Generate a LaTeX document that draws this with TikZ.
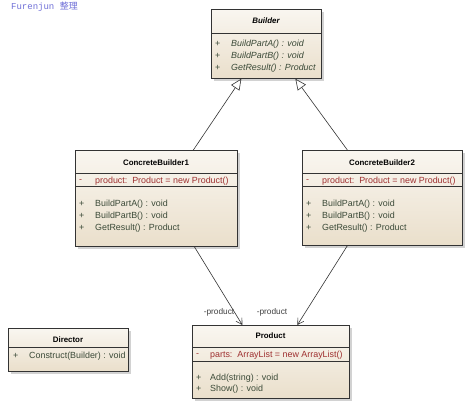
\documentclass[tikz,border=0pt]{standalone}
\usepackage{fontspec}
\setmainfont{Liberation Sans}
\newfontfamily\cjkfont{Noto Sans CJK SC}
\newfontfamily\markfont{Liberation Mono}
\usetikzlibrary{arrows.meta,shadows}
\definecolor{boxtop}{HTML}{F9F6F0}
\definecolor{boxbot}{HTML}{EADFCB}
\definecolor{attrred}{HTML}{9E2F2F}
\definecolor{opgreen}{HTML}{3B4A38}
\definecolor{markblue}{HTML}{7070D8}
\begin{document}
\begin{tikzpicture}[x=1pt, y=-1pt,
  umlbox/.style={draw=black!80, line width=0.7pt, top color=boxtop, bottom color=boxbot,
    anchor=north west, inner sep=0pt,
    drop shadow={shadow xshift=2.5pt, shadow yshift=-2.5pt, opacity=0.35}},
  title/.style={inner sep=0pt, font=\fontsize{7.9}{9}\selectfont\bfseries},
  attr/.style={anchor=west, inner sep=0pt, text=attrred, font=\fontsize{8.9}{10}\selectfont},
  oper/.style={anchor=west, inner sep=0pt, text=opgreen, font=\fontsize{8.9}{10}\selectfont},
  role/.style={inner sep=0pt, text=black!75, font=\fontsize{8.3}{9}\selectfont},
  sep/.style={draw=black!80, line width=0.6pt},
  inherit/.style={draw=black!80, line width=0.6pt, -{Triangle[open, length=11pt, width=10pt]}},
  assoc/.style={draw=black!80, line width=0.6pt, -{Straight Barb[length=6pt, width=7pt]}}
]
  \fill[white] (0,0) rectangle (474,409);
  \useasboundingbox (0,0) rectangle (474,409);

  \node[anchor=west, inner sep=0pt, text=markblue, font=\fontsize{9}{10}\selectfont] (mark) at (11,7)
    {\markfont Furenjun \cjkfont 整理};

  % Builder
  \node[umlbox, minimum width=110pt, minimum height=69pt] (builder) at (211,9) {};
  \draw[sep] (211,33) -- (321,33);
  \node[title, font=\fontsize{7.9}{9}\selectfont\bfseries\itshape] (builderT) at (266,21) {Builder};
  \node[oper] (b1m) at (215,44) {+};
  \node[oper, font=\fontsize{8.9}{10}\selectfont\itshape] (b1) at (231,44) {BuildPartA() : void};
  \node[oper] (b2m) at (215,56) {+};
  \node[oper, font=\fontsize{8.9}{10}\selectfont\itshape] (b2) at (231,56) {BuildPartB() : void};
  \node[oper] (b3m) at (215,68) {+};
  \node[oper, font=\fontsize{8.9}{10}\selectfont\itshape] (b3) at (231,68) {GetResult() : Product};

  % ConcreteBuilder1
  \node[umlbox, minimum width=162pt, minimum height=96pt] (cb1) at (75,150) {};
  \draw[sep] (75,173) -- (237,173);
  \draw[sep] (75,186) -- (237,186);
  \node[title] (cb1T) at (156,163) {ConcreteBuilder1};
  \node[attr] (c1am) at (79,181) {-};
  \node[attr] (c1a) at (95,181) {product:\ \ Product = new Product()};
  \node[oper] (c11m) at (79,204) {+};
  \node[oper] (c11) at (95,204) {BuildPartA() : void};
  \node[oper] (c12m) at (79,216) {+};
  \node[oper] (c12) at (95,216) {BuildPartB() : void};
  \node[oper] (c13m) at (79,228) {+};
  \node[oper] (c13) at (95,228) {GetResult() : Product};

  % ConcreteBuilder2
  \node[umlbox, minimum width=160pt, minimum height=95pt] (cb2) at (302,150) {};
  \draw[sep] (302,173) -- (462,173);
  \draw[sep] (302,186) -- (462,186);
  \node[title] (cb2T) at (382,163) {ConcreteBuilder2};
  \node[attr] (c2am) at (306,181) {-};
  \node[attr] (c2a) at (322,181) {product:\ \ Product = new Product()};
  \node[oper] (c21m) at (306,204) {+};
  \node[oper] (c21) at (322,204) {BuildPartA() : void};
  \node[oper] (c22m) at (306,216) {+};
  \node[oper] (c22) at (322,216) {BuildPartB() : void};
  \node[oper] (c23m) at (306,228) {+};
  \node[oper] (c23) at (322,228) {GetResult() : Product};

  % Product
  \node[umlbox, minimum width=157pt, minimum height=73pt] (product) at (192,325) {};
  \draw[sep] (192,347) -- (349,347);
  \draw[sep] (192,361) -- (349,361);
  \node[title] (productT) at (270.5,336) {Product};
  \node[attr] (pam) at (196,355) {-};
  \node[attr] (pa) at (210,355) {parts:\ \ ArrayList = new ArrayList()};
  \node[oper] (p1m) at (196,378) {+};
  \node[oper] (p1) at (210,378) {Add(string) : void};
  \node[oper] (p2m) at (196,389) {+};
  \node[oper] (p2) at (210,389) {Show() : void};

  % Director
  \node[umlbox, minimum width=120pt, minimum height=43pt] (director) at (8,328) {};
  \draw[sep] (8,347) -- (128,347);
  \node[title] (directorT) at (68,340) {Director};
  \node[oper] (d1m) at (13,356) {+};
  \node[oper] (d1) at (29,356) {Construct(Builder) : void};

  % generalization
  \draw[inherit] ([xshift=37pt]cb1.north) -- ([xshift=-25pt]builder.south);
  \draw[inherit] ([xshift=-35pt]cb2.north) -- ([xshift=29pt]builder.south);

  % associations
  \draw[assoc] ([xshift=38pt]cb1.south) -- ([xshift=-28.5pt]product.north);
  \draw[assoc] ([xshift=-35pt]cb2.south) -- ([xshift=26.5pt]product.north);
  \node[role] (role1) at (219,312) {-product};
  \node[role] (role2) at (272,312) {-product};
\end{tikzpicture}
\end{document}
